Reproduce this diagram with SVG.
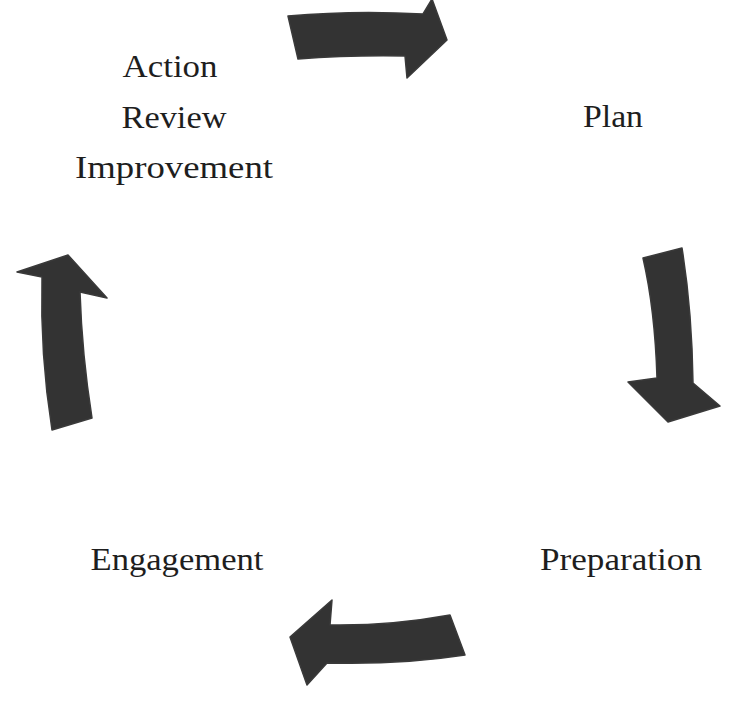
<svg xmlns="http://www.w3.org/2000/svg" width="735" height="704" viewBox="0 0 735 704">
<style>
.lbl{font-family:"Liberation Serif","Times New Roman",serif;font-size:31px;fill:#1e1e1e;text-anchor:middle}
.arr{fill:#333333;stroke:#3a3a3a;stroke-width:1.5;stroke-linejoin:round}
</style>
<rect width="735" height="704" fill="#ffffff"/>
<g id="node-action">
<text class="lbl" x="170" y="77" textLength="95" lengthAdjust="spacingAndGlyphs">Action</text>
<text class="lbl" x="174" y="128" textLength="105" lengthAdjust="spacingAndGlyphs">Review</text>
<text class="lbl" x="174" y="178" textLength="198" lengthAdjust="spacingAndGlyphs">Improvement</text>
</g>
<g id="node-plan">
<text class="lbl" x="613" y="127" textLength="60" lengthAdjust="spacingAndGlyphs">Plan</text>
</g>
<g id="node-preparation">
<text class="lbl" x="621" y="570" textLength="162" lengthAdjust="spacingAndGlyphs">Preparation</text>
</g>
<g id="node-engagement">
<text class="lbl" x="177" y="570" textLength="173" lengthAdjust="spacingAndGlyphs">Engagement</text>
</g>
<g id="connectors">
<path class="arr" d="M288,16 Q355,10 423,14 L432,-1 L447,40 L407,78 L405,56 Q350,55 298,59 Z"/>
<path class="arr" d="M643,258 L682,248 Q692,310 693,383 L720,406 L668,422 L628,382 L657,378 Q655,310 643,258 Z"/>
<path class="arr" d="M450,615 L465,655 Q400,665 327,663 L307,685 L290,637 L332,600 L330,625 Q390,626 450,615 Z"/>
<path class="arr" d="M52,430 L92,418 Q82,355 80,292 L107,298 L68,255 L17,272 L42,277 Q40,355 52,430 Z"/>
</g>
</svg>
